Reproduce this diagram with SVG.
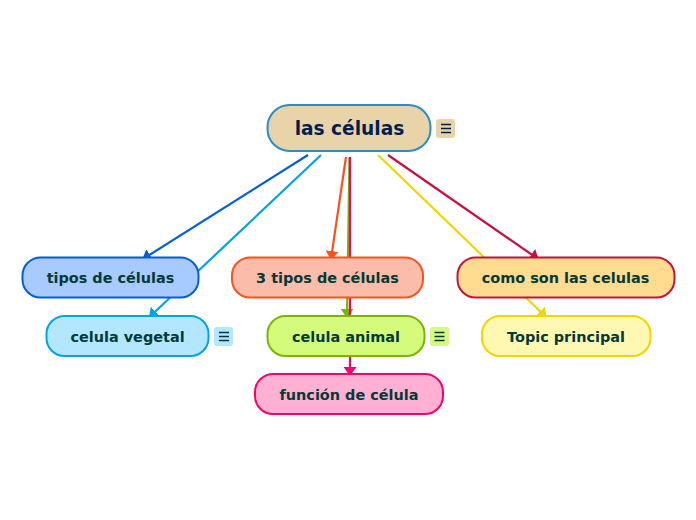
<svg xmlns="http://www.w3.org/2000/svg" width="696" height="520" viewBox="0 0 696 520">
<style>
text{font-family:"DejaVu Sans",Verdana,sans-serif;font-weight:700;text-anchor:middle;fill:#033a38;font-size:14.45px}
.n{stroke-width:2}
.c{fill:none;stroke-width:2.2}
.b{stroke-width:1.6;stroke:#033a38;fill:none}
#root text{font-size:18.6px;fill:#001f4e}
</style>
<defs>
<marker id="m1" markerUnits="userSpaceOnUse" viewBox="0 0 9 13" refX="8" refY="6.500" markerWidth="9" markerHeight="13" orient="auto"><path d="M0 0L9 6.500L0 13z" fill="#005fd7"/></marker>
<marker id="m2" markerUnits="userSpaceOnUse" viewBox="0 0 9 13" refX="8" refY="6.500" markerWidth="9" markerHeight="13" orient="auto"><path d="M0 0L9 6.500L0 13z" fill="#00a2e8"/></marker>
<marker id="m3" markerUnits="userSpaceOnUse" viewBox="0 0 9 13" refX="8" refY="6.500" markerWidth="9" markerHeight="13" orient="auto"><path d="M0 0L9 6.500L0 13z" fill="#f9521c"/></marker>
<marker id="m4" markerUnits="userSpaceOnUse" viewBox="0 0 9 13" refX="8" refY="6.500" markerWidth="9" markerHeight="13" orient="auto"><path d="M0 0L9 6.500L0 13z" fill="#7cb500"/></marker>
<marker id="m5" markerUnits="userSpaceOnUse" viewBox="0 0 9 13" refX="8" refY="6.500" markerWidth="9" markerHeight="13" orient="auto"><path d="M0 0L9 6.500L0 13z" fill="#f8006e"/></marker>
<marker id="m6" markerUnits="userSpaceOnUse" viewBox="0 0 9 13" refX="8" refY="6.500" markerWidth="9" markerHeight="13" orient="auto"><path d="M0 0L9 6.500L0 13z" fill="#eed700"/></marker>
<marker id="m7" markerUnits="userSpaceOnUse" viewBox="0 0 9 13" refX="8" refY="6.500" markerWidth="9" markerHeight="13" orient="auto"><path d="M0 0L9 6.500L0 13z" fill="#c8103c"/></marker>
</defs>
<g id="connectors">
<path class="c" d="M308 155L143 259" stroke="#005fd7" marker-end="url(#m1)"/>
<path class="c" d="M321 155L149.500 317" stroke="#00a2e8" marker-end="url(#m2)"/>
<path class="c" d="M349.500 157L347 317" stroke="#7cb500" marker-end="url(#m4)"/>
<path class="c" d="M350 157L350 375" stroke="#f8006e" marker-end="url(#m5)"/>
<path class="c" d="M346 157L331 259" stroke="#f9521c" marker-end="url(#m3)"/>
<path class="c" d="M378 155L546 317" stroke="#eed700" marker-end="url(#m6)"/>
<path class="c" d="M388 155L538 259" stroke="#c8103c" marker-end="url(#m7)"/>
</g>
<g id="root">
<rect class="n" x="267.500" y="105" width="163" height="46" rx="22" fill="#e8d4a8" stroke="#2a8dc8"/>
<text x="349.500" y="134.500">las células</text>
<rect x="436" y="119" width="19" height="19" rx="3" fill="#e8d4a8"/>
<path class="b" d="M441 124.500h10M441 128.500h10M441 132.500h10" style="stroke:#001f4e"/>
</g>
<g id="n1">
<rect class="n" x="22.500" y="257.500" width="176" height="40" rx="18" fill="#a8cbff" stroke="#005fd7"/>
<text x="110.500" y="283">tipos de células</text>
</g>
<g id="n2">
<rect class="n" x="232" y="257.500" width="191" height="40" rx="18" fill="#fbbcaa" stroke="#f9521c"/>
<text x="327.500" y="283">3 tipos de células</text>
</g>
<g id="n3">
<rect class="n" x="457.500" y="257.500" width="217" height="40" rx="18" fill="#ffdc8f" stroke="#c8103c"/>
<text x="565.500" y="283">como son las celulas</text>
</g>
<g id="n4">
<rect class="n" x="46.500" y="316" width="162" height="40" rx="18" fill="#b3e7ff" stroke="#00a2e8"/>
<text x="127.500" y="342">celula vegetal</text>
<rect x="214" y="327" width="19" height="19" rx="3" fill="#b3e7ff"/>
<path class="b" d="M219 332.500h10M219 336.500h10M219 340.500h10"/>
</g>
<g id="n5">
<rect class="n" x="267.500" y="316" width="157" height="40" rx="18" fill="#d4fb7c" stroke="#7cb500"/>
<text x="346" y="342">celula animal</text>
<rect x="430" y="327" width="19" height="19" rx="3" fill="#d4fb7c"/>
<path class="b" d="M434.500 332.500h10M434.500 336.500h10M434.500 340.500h10"/>
</g>
<g id="n6">
<rect class="n" x="482" y="316" width="168.500" height="40" rx="18" fill="#fff8b3" stroke="#eed700"/>
<text x="566" y="342">Topic principal</text>
</g>
<g id="n7">
<rect class="n" x="255" y="374" width="188" height="40" rx="18" fill="#ffb0d3" stroke="#f8006e"/>
<text x="349" y="400">función de célula</text>
</g>
</svg>
